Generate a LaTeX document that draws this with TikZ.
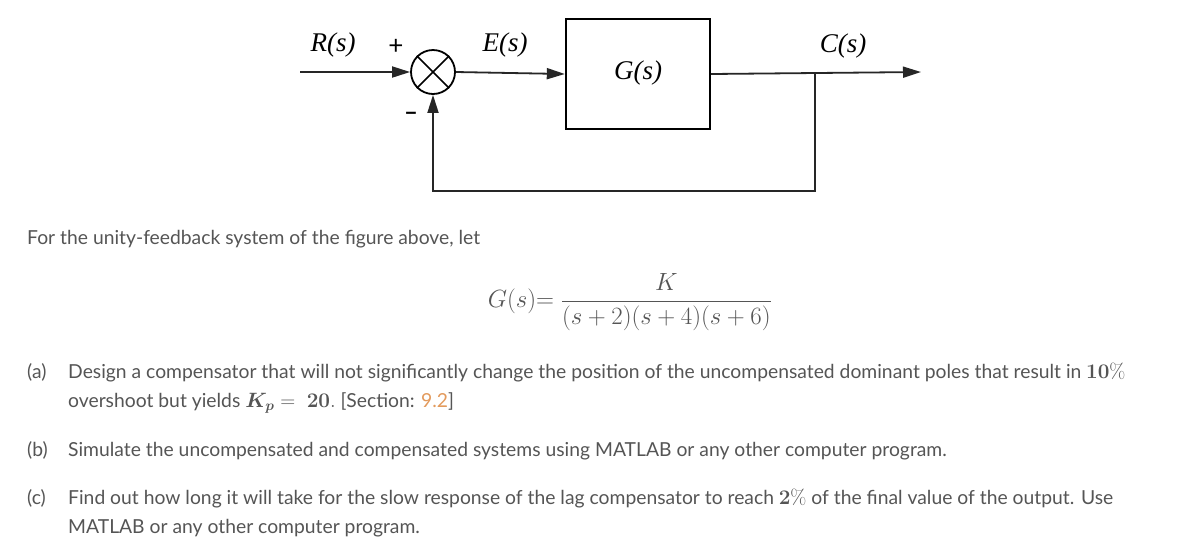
\documentclass[tikz,border=0pt]{standalone}
\usepackage{amsmath,amssymb}
\usepackage[no-math]{fontspec}
\setmainfont{Lato}
\newfontfamily\diag{Liberation Serif}
\usetikzlibrary{arrows.meta}
\definecolor{txt}{HTML}{555555}
\definecolor{lnk}{HTML}{E39A5C}
\begin{document}
\begin{tikzpicture}[x=1pt,y=-1pt,
  wire/.style={line width=1.8pt,draw=black!85},
  arr/.style={wire,-{Triangle[length=18pt,width=11pt]}},
  dlab/.style={font=\diag\fontsize{27}{27}\selectfont\itshape,inner sep=0pt},
  para/.style={anchor=base west,inner sep=0pt,text=txt,font=\fontsize{19.3}{22}\selectfont}]
\useasboundingbox[fill=white] (0,0) rectangle (1185,550);
\node[circle,draw,line width=1.8pt,minimum size=44pt,inner sep=0pt] (sum) at (433,72) {};
\draw[line width=1.6pt] (sum.north west) -- (sum.south east) (sum.north east) -- (sum.south west);
\node[draw,line width=2.4pt,minimum width=144pt,minimum height=110pt,inner sep=0pt] (G) at (638,74) {};
\node[dlab] at (638,73) {G(s)};
\coordinate (in) at (300,72);
\coordinate (out) at (921,72);
\coordinate (br) at (815,72);
\coordinate (c1) at (815,191);
\coordinate (c2) at (433,191);
\draw[arr] (in) -- (sum.west);
\draw[arr] (sum.east) -- (G.west);
\draw[arr] (G.east) -- (out);
\draw[arr] (br) -- (c1) -- (c2) -- (sum.south);
\node[dlab] at (333,45) {R(s)};
\node[dlab] at (505,45) {E(s)};
\node[dlab] at (843,46) {C(s)};
\node[inner sep=0pt,font=\fontsize{26}{26}\selectfont] at (396,47) {+};
\node[inner sep=0pt,font=\fontsize{24}{24}\selectfont] at (411,116) {\textbf{--}};
\node[para] at (27,244) {For the unity-feedback system of the figure above, let};
\node[anchor=east,inner sep=0pt,font=\fontsize{23}{23}\selectfont,text=txt] at (772,302) {$G(s){=}\;\dfrac{K}{(s+2)(s+4)(s+6)}$};
\node[para] at (27,378) {(a)};
\node[para] at (68,378) {Design a compensator that will not significantly change the position of the uncompensated dominant poles that result in $\mathbf{10\%}$};
\node[para] at (68,407) {overshoot but yields $\boldsymbol{K_p}\mathbf{\;=\;20.}$ [Section: \textcolor{lnk}{9.2}]};
\node[para] at (27,456) {(b)};
\node[para] at (68,456) {Simulate the uncompensated and compensated systems using MATLAB or any other computer program.};
\node[para] at (27,504) {(c)};
\node[para] at (68,504) {Find out how long it will take for the slow response of the lag compensator to reach $\mathbf{2\%}$ of the final value of the output. Use};
\node[para] at (68,533) {MATLAB or any other computer program.};
\end{tikzpicture}
\end{document}
